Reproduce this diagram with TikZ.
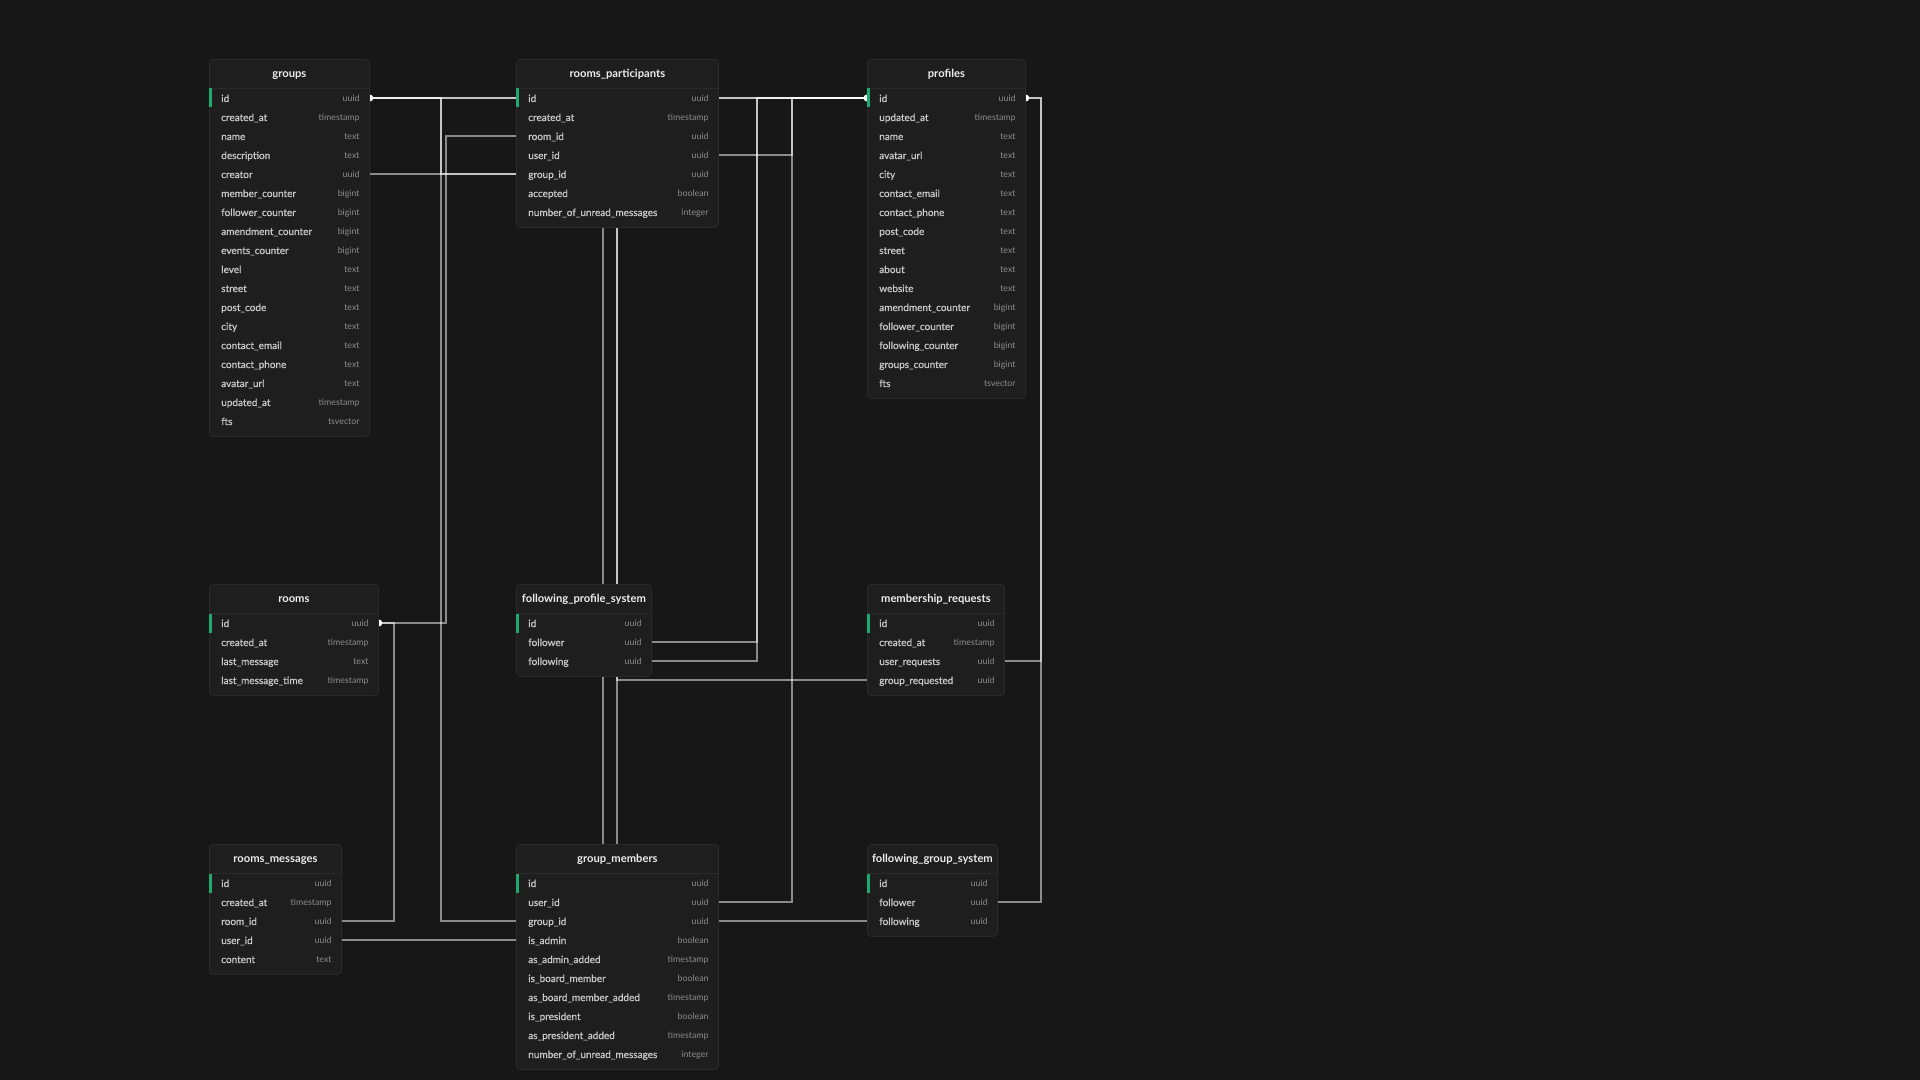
\documentclass[tikz,border=0pt]{standalone}
\usepackage{fontspec}
\setmainfont{Lato}
\newfontfamily\colfont{Lato}[FakeBold=0.8]
\usetikzlibrary{calc}
\definecolor{bgc}{HTML}{171717}
\definecolor{boxfill}{HTML}{1E1E1E}
\definecolor{boxborder}{HTML}{2A2A2A}
\definecolor{sepc}{HTML}{2A2A2A}
\definecolor{titlec}{HTML}{EDEDED}
\definecolor{colc}{HTML}{C8C8C8}
\definecolor{typec}{HTML}{8C8C8C}
\definecolor{pkgreen}{HTML}{1FA971}
\pgfdeclarelayer{bg}
\pgfsetlayers{bg,main}
\tikzset{
  tbox/.style={draw=boxborder, fill=boxfill, rounded corners=3pt, line width=0.6pt, inner sep=0pt, anchor=north west},
  ttitle/.style={text=titlec, font=\bfseries\fontsize{8.4}{10}\selectfont, inner sep=0pt, anchor=base},
  colname/.style={text=colc, font=\colfont\fontsize{7.5}{9}\selectfont, inner sep=0pt, anchor=base west},
  coltype/.style={text=typec, font=\fontsize{6.6}{8}\selectfont, inner sep=0pt, anchor=base east},
  edge/.style={draw=white, draw opacity=0.5, line width=1.1pt},
  sepline/.style={draw=sepc, line width=0.6pt},
  pkmark/.style={fill=pkgreen},
  handle/.style={fill=white}
}
\newcommand{\dbtable}[7]{%
  \pgfmathsetmacro{\tbW}{#4*0.75}%
  \pgfmathsetmacro{\tbH}{(35+19*#5)*0.75}%
  \node[tbox, minimum width=\tbW pt, minimum height=\tbH pt] (#1) at (#2,#3) {};
  \node[ttitle] (#1-title) at ($(#1.north)+(0,18.6)$) {#6};
  \draw[sepline] ($(#1.north west)+(0,29.5)$) -- ($(#1.north east)+(0,29.5)$);
  \fill[pkmark] ($(#1.north west)+(0.3,29.5)$) rectangle ++(2.5,19);
  \foreach \cn/\ct [count=\i from 0] in {#7} {
    \node[colname] (#1-\cn) at ($(#1.north west)+(12,43.0+19*\i)$) {\cn};
    \node[coltype] (#1-\cn-type) at ($(#1.north east)+(-10,42.7+19*\i)$) {\ct};
    \coordinate (#1-\cn-L) at ($(#1.north west)+(0,39+19*\i)$);
    \coordinate (#1-\cn-R) at ($(#1.north east)+(0,39+19*\i)$);
  }%
}
\begin{document}
\catcode`\_=12
\begin{tikzpicture}[x=0.75pt,y=-0.75pt]
\useasboundingbox (0,0) rectangle (1920,1080);

\dbtable{groups}{209}{59}{160}{18}{groups}{id/uuid, created_at/timestamp, name/text, description/text, creator/uuid, member_counter/bigint, follower_counter/bigint, amendment_counter/bigint, events_counter/bigint, level/text, street/text, post_code/text, city/text, contact_email/text, contact_phone/text, avatar_url/text, updated_at/timestamp, fts/tsvector}
\dbtable{rp}{516}{59}{202}{7}{rooms_participants}{id/uuid, created_at/timestamp, room_id/uuid, user_id/uuid, group_id/uuid, accepted/boolean, number_of_unread_messages/integer}
\dbtable{profiles}{867}{59}{158}{16}{profiles}{id/uuid, updated_at/timestamp, name/text, avatar_url/text, city/text, contact_email/text, contact_phone/text, post_code/text, street/text, about/text, website/text, amendment_counter/bigint, follower_counter/bigint, following_counter/bigint, groups_counter/bigint, fts/tsvector}
\dbtable{rooms}{209}{584}{169}{4}{rooms}{id/uuid, created_at/timestamp, last_message/text, last_message_time/timestamp}
\dbtable{fps}{516}{584}{135}{3}{following_profile_system}{id/uuid, follower/uuid, following/uuid}
\dbtable{mr}{867}{584}{137}{4}{membership_requests}{id/uuid, created_at/timestamp, user_requests/uuid, group_requested/uuid}
\dbtable{rm}{209}{844}{132}{5}{rooms_messages}{id/uuid, created_at/timestamp, room_id/uuid, user_id/uuid, content/text}
\dbtable{gm}{516}{844}{202}{10}{group_members}{id/uuid, user_id/uuid, group_id/uuid, is_admin/boolean, as_admin_added/timestamp, is_board_member/boolean, as_board_member_added/timestamp, is_president/boolean, as_president_added/timestamp, number_of_unread_messages/integer}
\dbtable{fgs}{867}{844}{130}{3}{following_group_system}{id/uuid, follower/uuid, following/uuid}

\coordinate (cA) at (441,0);
\coordinate (cB) at (446,0);
\coordinate (cC) at (617,0);
\coordinate (cD) at (603,0);
\coordinate (cE) at (792,0);
\coordinate (cF) at (757,0);
\coordinate (cG) at (1041,0);
\coordinate (cH) at (394,0);

\begin{pgfonlayer}{bg}
\fill[bgc] (0,0) rectangle (1920,1080);
% references to groups.id
\draw[edge] (rp-group_id-L) -- (rp-group_id-L -| cA) -- (groups-id-R -| cA) -- (groups-id-R);
\draw[edge] (gm-group_id-L) -- (gm-group_id-L -| cA) -- (groups-id-R -| cA) -- (groups-id-R);
\draw[edge] (mr-group_requested-L) -- (mr-group_requested-L -| cC) -- (groups-id-R -| cC) -- (groups-id-R);
\draw[edge] (fgs-following-L) -- (fgs-following-L -| cC) -- (groups-id-R -| cC) -- (groups-id-R);
% references to rooms.id
\draw[edge] (rp-room_id-L) -- (rp-room_id-L -| cB) -- (rooms-id-R -| cB) -- (rooms-id-R);
\draw[edge] (rm-room_id-R) -- (rm-room_id-R -| cH) -- (rooms-id-R -| cH) -- (rooms-id-R);
% references to profiles.id
\draw[edge] (groups-creator-R) -- (groups-creator-R -| cC) -- (profiles-id-L -| cC) -- (profiles-id-L);
\draw[edge] (rm-user_id-R) -- (rm-user_id-R -| cD) -- (profiles-id-L -| cD) -- (profiles-id-L);
\draw[edge] (rp-user_id-R) -- (rp-user_id-R -| cE) -- (profiles-id-L -| cE) -- (profiles-id-L);
\draw[edge] (gm-user_id-R) -- (gm-user_id-R -| cE) -- (profiles-id-L -| cE) -- (profiles-id-L);
\draw[edge] (fps-follower-R) -- (fps-follower-R -| cF) -- (profiles-id-L -| cF) -- (profiles-id-L);
\draw[edge] (fps-following-R) -- (fps-following-R -| cF) -- (profiles-id-L -| cF) -- (profiles-id-L);
\draw[edge] (mr-user_requests-R) -- (mr-user_requests-R -| cG) -- (profiles-id-R -| cG) -- (profiles-id-R);
\draw[edge] (fgs-follower-R) -- (fgs-follower-R -| cG) -- (profiles-id-R -| cG) -- (profiles-id-R);
% handles
\fill[handle] (groups-id-R) circle[radius=3.5];
\fill[handle] (rooms-id-R) circle[radius=3.5];
\fill[handle] (profiles-id-L) circle[radius=3.5];
\fill[handle] (profiles-id-R) circle[radius=3.5];
\end{pgfonlayer}
\end{tikzpicture}
\end{document}
